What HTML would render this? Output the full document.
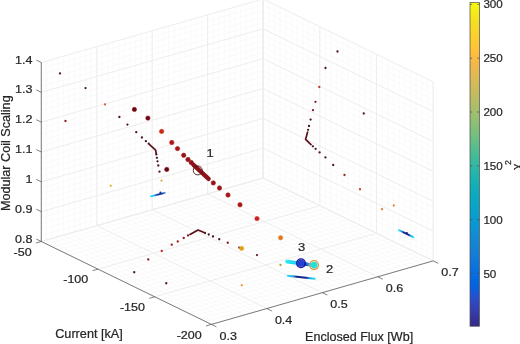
<!DOCTYPE html>
<html><head><meta charset="utf-8"><title>plot</title>
<style>
html,body{margin:0;padding:0;background:#fff;}
body{width:520px;height:344px;overflow:hidden;}
svg{display:block;}
.gm{stroke:#f7f7f7;stroke-width:0.6;}
.gM{stroke:#ebebeb;stroke-width:0.8;}
.ax{stroke:#4a4a4a;stroke-width:0.7;}
.t text, text{font-family:"Liberation Sans",sans-serif;fill:#262626;stroke:#262626;stroke-width:0.22;}
</style></head><body>
<svg width="520" height="344" viewBox="0 0 520 344">
<defs><linearGradient id="pg" x1="0" y1="0" x2="0" y2="1"><stop offset="0.0000" stop-color="#f9fb0e"/><stop offset="0.0159" stop-color="#f6f313"/><stop offset="0.0317" stop-color="#f5eb18"/><stop offset="0.0476" stop-color="#f5e41d"/><stop offset="0.0635" stop-color="#f5de21"/><stop offset="0.0794" stop-color="#f7d826"/><stop offset="0.0952" stop-color="#fad32a"/><stop offset="0.1111" stop-color="#fcce2e"/><stop offset="0.1270" stop-color="#fec832"/><stop offset="0.1429" stop-color="#ffc337"/><stop offset="0.1587" stop-color="#fdbe3d"/><stop offset="0.1746" stop-color="#f8bb44"/><stop offset="0.1905" stop-color="#f1b94a"/><stop offset="0.2063" stop-color="#e9b94e"/><stop offset="0.2222" stop-color="#e1b952"/><stop offset="0.2381" stop-color="#d9ba56"/><stop offset="0.2540" stop-color="#d1bb59"/><stop offset="0.2698" stop-color="#c8bc5d"/><stop offset="0.2857" stop-color="#c0bc60"/><stop offset="0.3016" stop-color="#b7bd64"/><stop offset="0.3175" stop-color="#aebe67"/><stop offset="0.3333" stop-color="#a5be6b"/><stop offset="0.3492" stop-color="#9cbf6f"/><stop offset="0.3651" stop-color="#92bf73"/><stop offset="0.3810" stop-color="#87bf77"/><stop offset="0.3968" stop-color="#7cbf7b"/><stop offset="0.4127" stop-color="#71bf80"/><stop offset="0.4286" stop-color="#65be86"/><stop offset="0.4444" stop-color="#59bd8c"/><stop offset="0.4603" stop-color="#4dbc92"/><stop offset="0.4762" stop-color="#42bb98"/><stop offset="0.4921" stop-color="#38b99e"/><stop offset="0.5079" stop-color="#2eb7a4"/><stop offset="0.5238" stop-color="#25b5a9"/><stop offset="0.5397" stop-color="#1db3af"/><stop offset="0.5556" stop-color="#15b1b4"/><stop offset="0.5714" stop-color="#0faeb9"/><stop offset="0.5873" stop-color="#0aacbe"/><stop offset="0.6032" stop-color="#07a9c2"/><stop offset="0.6190" stop-color="#06a7c6"/><stop offset="0.6349" stop-color="#06a4ca"/><stop offset="0.6508" stop-color="#06a0cd"/><stop offset="0.6667" stop-color="#079ccf"/><stop offset="0.6825" stop-color="#0998d1"/><stop offset="0.6984" stop-color="#0c93d2"/><stop offset="0.7143" stop-color="#108ed2"/><stop offset="0.7302" stop-color="#1389d3"/><stop offset="0.7460" stop-color="#1485d4"/><stop offset="0.7619" stop-color="#1481d6"/><stop offset="0.7778" stop-color="#127dd8"/><stop offset="0.7937" stop-color="#1079da"/><stop offset="0.8095" stop-color="#0d75dc"/><stop offset="0.8254" stop-color="#0871de"/><stop offset="0.8413" stop-color="#046de0"/><stop offset="0.8571" stop-color="#0268e1"/><stop offset="0.8730" stop-color="#0363e1"/><stop offset="0.8889" stop-color="#0f5cdd"/><stop offset="0.9048" stop-color="#2053d4"/><stop offset="0.9206" stop-color="#2c4ac7"/><stop offset="0.9365" stop-color="#3243ba"/><stop offset="0.9524" stop-color="#353dad"/><stop offset="0.9683" stop-color="#3637a0"/><stop offset="0.9841" stop-color="#363093"/><stop offset="1.0000" stop-color="#352a87"/></linearGradient></defs>
<rect width="520" height="344" fill="#fff"/>
<g fill="none">
<path class="gm" d="M41.30,241.50 L41.30,62.50 M41.30,241.50 L211.40,324.40 M46.84,239.91 L46.84,60.91 M46.84,239.91 L216.95,322.81 M52.39,238.32 L52.39,59.32 M52.39,238.32 L222.49,321.22 M57.93,236.74 L57.93,57.74 M57.93,236.74 L228.04,319.64 M63.48,235.15 L63.48,56.15 M63.48,235.15 L233.58,318.05 M69.02,233.56 L69.02,54.56 M69.02,233.56 L239.13,316.46 M74.57,231.97 L74.57,52.97 M74.57,231.97 L244.67,314.88 M80.11,230.39 L80.11,51.39 M80.11,230.39 L250.22,313.29 M85.66,228.80 L85.66,49.80 M85.66,228.80 L255.76,311.70 M91.20,227.21 L91.20,48.21 M91.20,227.21 L261.31,310.11 M96.75,225.62 L96.75,46.62 M96.75,225.62 L266.85,308.52 M102.29,224.04 L102.29,45.04 M102.29,224.04 L272.40,306.94 M107.84,222.45 L107.84,43.45 M107.84,222.45 L277.94,305.35 M113.38,220.86 L113.38,41.86 M113.38,220.86 L283.49,303.76 M118.93,219.28 L118.93,40.28 M118.93,219.28 L289.03,302.17 M124.47,217.69 L124.47,38.69 M124.47,217.69 L294.58,300.59 M130.02,216.10 L130.02,37.10 M130.02,216.10 L300.12,299.00 M135.56,214.51 L135.56,35.51 M135.56,214.51 L305.67,297.41 M141.11,212.93 L141.11,33.93 M141.11,212.93 L311.21,295.82 M146.65,211.34 L146.65,32.34 M146.65,211.34 L316.75,294.24 M152.20,209.75 L152.20,30.75 M152.20,209.75 L322.30,292.65 M157.75,208.16 L157.75,29.16 M157.75,208.16 L327.85,291.06 M163.29,206.57 L163.29,27.57 M163.29,206.57 L333.39,289.47 M168.83,204.99 L168.83,25.99 M168.83,204.99 L338.94,287.89 M174.38,203.40 L174.38,24.40 M174.38,203.40 L344.48,286.30 M179.93,201.81 L179.93,22.81 M179.93,201.81 L350.03,284.71 M185.47,200.22 L185.47,21.22 M185.47,200.22 L355.57,283.12 M191.01,198.64 L191.01,19.64 M191.01,198.64 L361.12,281.54 M196.56,197.05 L196.56,18.05 M196.56,197.05 L366.66,279.95 M202.10,195.46 L202.10,16.46 M202.10,195.46 L372.21,278.36 M207.65,193.88 L207.65,14.88 M207.65,193.88 L377.75,276.77 M213.19,192.29 L213.19,13.29 M213.19,192.29 L383.30,275.19 M218.74,190.70 L218.74,11.70 M218.74,190.70 L388.84,273.60 M224.28,189.11 L224.28,10.11 M224.28,189.11 L394.38,272.01 M229.83,187.53 L229.83,8.53 M229.83,187.53 L399.93,270.42 M235.38,185.94 L235.38,6.94 M235.38,185.94 L405.48,268.84 M240.92,184.35 L240.92,5.35 M240.92,184.35 L411.02,267.25 M246.46,182.76 L246.46,3.76 M246.46,182.76 L416.57,265.66 M252.01,181.18 L252.01,2.18 M252.01,181.18 L422.11,264.07 M257.55,179.59 L257.55,0.59 M257.55,179.59 L427.65,262.49 M263.10,178.00 L263.10,-1.00 M263.10,178.00 L433.20,260.90 M41.30,241.50 L263.10,178.00 M263.10,178.00 L433.20,260.90 M41.30,235.53 L263.10,172.03 M263.10,172.03 L433.20,254.93 M41.30,229.57 L263.10,166.07 M263.10,166.07 L433.20,248.97 M41.30,223.60 L263.10,160.10 M263.10,160.10 L433.20,243.00 M41.30,217.63 L263.10,154.13 M263.10,154.13 L433.20,237.03 M41.30,211.67 L263.10,148.17 M263.10,148.17 L433.20,231.07 M41.30,205.70 L263.10,142.20 M263.10,142.20 L433.20,225.10 M41.30,199.73 L263.10,136.23 M263.10,136.23 L433.20,219.13 M41.30,193.77 L263.10,130.27 M263.10,130.27 L433.20,213.17 M41.30,187.80 L263.10,124.30 M263.10,124.30 L433.20,207.20 M41.30,181.83 L263.10,118.33 M263.10,118.33 L433.20,201.23 M41.30,175.87 L263.10,112.37 M263.10,112.37 L433.20,195.27 M41.30,169.90 L263.10,106.40 M263.10,106.40 L433.20,189.30 M41.30,163.93 L263.10,100.43 M263.10,100.43 L433.20,183.33 M41.30,157.97 L263.10,94.47 M263.10,94.47 L433.20,177.37 M41.30,152.00 L263.10,88.50 M263.10,88.50 L433.20,171.40 M41.30,146.03 L263.10,82.53 M263.10,82.53 L433.20,165.43 M41.30,140.07 L263.10,76.57 M263.10,76.57 L433.20,159.47 M41.30,134.10 L263.10,70.60 M263.10,70.60 L433.20,153.50 M41.30,128.13 L263.10,64.63 M263.10,64.63 L433.20,147.53 M41.30,122.17 L263.10,58.67 M263.10,58.67 L433.20,141.57 M41.30,116.20 L263.10,52.70 M263.10,52.70 L433.20,135.60 M41.30,110.23 L263.10,46.73 M263.10,46.73 L433.20,129.63 M41.30,104.27 L263.10,40.77 M263.10,40.77 L433.20,123.67 M41.30,98.30 L263.10,34.80 M263.10,34.80 L433.20,117.70 M41.30,92.33 L263.10,28.83 M263.10,28.83 L433.20,111.73 M41.30,86.37 L263.10,22.87 M263.10,22.87 L433.20,105.77 M41.30,80.40 L263.10,16.90 M263.10,16.90 L433.20,99.80 M41.30,74.43 L263.10,10.93 M263.10,10.93 L433.20,93.83 M41.30,68.47 L263.10,4.97 M263.10,4.97 L433.20,87.87 M41.30,62.50 L263.10,-1.00 M263.10,-1.00 L433.20,81.90 M263.10,178.00 L263.10,-1.00 M41.30,241.50 L263.10,178.00 M268.77,180.76 L268.77,1.76 M46.97,244.26 L268.77,180.76 M274.44,183.53 L274.44,4.53 M52.64,247.03 L274.44,183.53 M280.11,186.29 L280.11,7.29 M58.31,249.79 L280.11,186.29 M285.78,189.05 L285.78,10.05 M63.98,252.55 L285.78,189.05 M291.45,191.82 L291.45,12.82 M69.65,255.32 L291.45,191.82 M297.12,194.58 L297.12,15.58 M75.32,258.08 L297.12,194.58 M302.79,197.34 L302.79,18.34 M80.99,260.84 L302.79,197.34 M308.46,200.11 L308.46,21.11 M86.66,263.61 L308.46,200.11 M314.13,202.87 L314.13,23.87 M92.33,266.37 L314.13,202.87 M319.80,205.63 L319.80,26.63 M98.00,269.13 L319.80,205.63 M325.47,208.40 L325.47,29.40 M103.67,271.90 L325.47,208.40 M331.14,211.16 L331.14,32.16 M109.34,274.66 L331.14,211.16 M336.81,213.92 L336.81,34.92 M115.01,277.42 L336.81,213.92 M342.48,216.69 L342.48,37.69 M120.68,280.19 L342.48,216.69 M348.15,219.45 L348.15,40.45 M126.35,282.95 L348.15,219.45 M353.82,222.21 L353.82,43.21 M132.02,285.71 L353.82,222.21 M359.49,224.98 L359.49,45.98 M137.69,288.48 L359.49,224.98 M365.16,227.74 L365.16,48.74 M143.36,291.24 L365.16,227.74 M370.83,230.50 L370.83,51.50 M149.03,294.00 L370.83,230.50 M376.50,233.27 L376.50,54.27 M154.70,296.77 L376.50,233.27 M382.17,236.03 L382.17,57.03 M160.37,299.53 L382.17,236.03 M387.84,238.79 L387.84,59.79 M166.04,302.29 L387.84,238.79 M393.51,241.56 L393.51,62.56 M171.71,305.06 L393.51,241.56 M399.18,244.32 L399.18,65.32 M177.38,307.82 L399.18,244.32 M404.85,247.08 L404.85,68.08 M183.05,310.58 L404.85,247.08 M410.52,249.85 L410.52,70.85 M188.72,313.35 L410.52,249.85 M416.19,252.61 L416.19,73.61 M194.39,316.11 L416.19,252.61 M421.86,255.37 L421.86,76.37 M200.06,318.87 L421.86,255.37 M427.53,258.14 L427.53,79.14 M205.73,321.64 L427.53,258.14 M433.20,260.90 L433.20,81.90 M211.40,324.40 L433.20,260.90"/>
<path class="gM" d="M263.10,178.00 L263.10,-1.00 M41.30,241.50 L263.10,178.00 M319.80,205.63 L319.80,26.63 M98.00,269.13 L319.80,205.63 M376.50,233.27 L376.50,54.27 M154.70,296.77 L376.50,233.27 M433.20,260.90 L433.20,81.90 M211.40,324.40 L433.20,260.90 M41.30,241.50 L41.30,62.50 M41.30,241.50 L211.40,324.40 M96.75,225.62 L96.75,46.62 M96.75,225.62 L266.85,308.52 M152.20,209.75 L152.20,30.75 M152.20,209.75 L322.30,292.65 M207.65,193.88 L207.65,14.88 M207.65,193.88 L377.75,276.77 M263.10,178.00 L263.10,-1.00 M263.10,178.00 L433.20,260.90 M41.30,241.50 L263.10,178.00 M263.10,178.00 L433.20,260.90 M41.30,211.67 L263.10,148.17 M263.10,148.17 L433.20,231.07 M41.30,181.83 L263.10,118.33 M263.10,118.33 L433.20,201.23 M41.30,152.00 L263.10,88.50 M263.10,88.50 L433.20,171.40 M41.30,122.17 L263.10,58.67 M263.10,58.67 L433.20,141.57 M41.30,92.33 L263.10,28.83 M263.10,28.83 L433.20,111.73 M41.30,62.50 L263.10,-1.00 M263.10,-1.00 L433.20,81.90"/>
<path class="ax" d="M41.30,62.50 L41.30,241.50 L211.40,324.40 L433.20,260.90 M41.30,241.50 L35.92,243.04 M98.00,269.13 L92.62,270.67 M154.70,296.77 L149.32,298.31 M211.40,324.40 L206.02,325.94 M211.40,324.40 L216.43,326.85 M266.85,308.52 L271.88,310.98 M322.30,292.65 L327.33,295.10 M377.75,276.77 L382.78,279.23 M433.20,260.90 L438.23,263.35 M41.30,241.50 L36.27,239.05 M41.30,211.67 L36.27,209.21 M41.30,181.83 L36.27,179.38 M41.30,152.00 L36.27,149.55 M41.30,122.17 L36.27,119.71 M41.30,92.33 L36.27,89.88 M41.30,62.50 L36.27,60.05"/>
</g>
<circle cx="60.00" cy="73.40" r="1.15" fill="#4c1420"/>
<circle cx="85.50" cy="88.10" r="1.15" fill="#4c1420"/>
<circle cx="105.00" cy="104.40" r="1.15" fill="#d86030"/>
<circle cx="65.50" cy="121.00" r="1.15" fill="#8a1820"/>
<circle cx="119.40" cy="117.00" r="1.15" fill="#4c1420"/>
<circle cx="127.40" cy="124.60" r="1.15" fill="#4c1420"/>
<circle cx="136.25" cy="132.20" r="1.15" fill="#4c1420"/>
<circle cx="141.90" cy="137.50" r="1.15" fill="#4c1420"/>
<circle cx="145.90" cy="141.20" r="1.15" fill="#4c1420"/>
<circle cx="148.70" cy="143.70" r="1.15" fill="#4c1420"/>
<circle cx="156.30" cy="154.40" r="1.15" fill="#4c1420"/>
<circle cx="156.90" cy="157.80" r="1.15" fill="#4c1420"/>
<circle cx="157.50" cy="161.30" r="1.15" fill="#4c1420"/>
<circle cx="158.30" cy="165.50" r="1.15" fill="#4c1420"/>
<circle cx="159.50" cy="171.70" r="1.15" fill="#4c1420"/>
<circle cx="110.75" cy="185.75" r="1.15" fill="#e4b840"/>
<circle cx="161.50" cy="180.60" r="1.15" fill="#e4a840"/>
<path d="M149.6,144.6 L155.6,150.1 L156.2,153.5" fill="none" stroke="#5a1018" stroke-width="1.7" stroke-linejoin="round" stroke-linecap="round"/>
<circle cx="337.50" cy="51.50" r="1.15" fill="#4c1420"/>
<circle cx="325.50" cy="68.00" r="1.15" fill="#4c1420"/>
<circle cx="319.30" cy="87.00" r="1.15" fill="#c03828"/>
<circle cx="315.50" cy="101.80" r="1.15" fill="#8a1820"/>
<circle cx="313.00" cy="110.20" r="1.15" fill="#8a1820"/>
<circle cx="363.75" cy="113.50" r="1.15" fill="#5a1420"/>
<circle cx="310.60" cy="119.60" r="1.15" fill="#4c1420"/>
<circle cx="309.00" cy="126.00" r="1.15" fill="#4c1420"/>
<circle cx="308.10" cy="129.80" r="1.15" fill="#4c1420"/>
<circle cx="312.90" cy="146.30" r="1.15" fill="#4c1420"/>
<circle cx="315.60" cy="148.80" r="1.15" fill="#4c1420"/>
<circle cx="319.60" cy="152.40" r="1.15" fill="#4c1420"/>
<circle cx="325.40" cy="157.40" r="1.15" fill="#4c1420"/>
<circle cx="333.20" cy="165.00" r="1.15" fill="#4c1420"/>
<circle cx="344.50" cy="175.00" r="1.15" fill="#90301c"/>
<circle cx="360.00" cy="189.25" r="1.15" fill="#c04824"/>
<circle cx="382.00" cy="209.25" r="1.15" fill="#e08838"/>
<circle cx="393.75" cy="205.50" r="1.15" fill="#e08838"/>
<path d="M307.6,132 L305.6,139.4 L311,144.6" fill="none" stroke="#5a1018" stroke-width="1.7" stroke-linejoin="round" stroke-linecap="round"/>
<circle cx="134.25" cy="272.25" r="1.15" fill="#4c1420"/>
<circle cx="148.25" cy="259.50" r="1.15" fill="#8a1820"/>
<circle cx="161.75" cy="251.00" r="1.15" fill="#c02828"/>
<circle cx="171.75" cy="244.75" r="1.15" fill="#a01c20"/>
<circle cx="177.75" cy="241.50" r="1.15" fill="#a01c20"/>
<circle cx="183.75" cy="238.00" r="1.15" fill="#901820"/>
<circle cx="188.00" cy="235.50" r="1.15" fill="#901820"/>
<circle cx="205.00" cy="233.00" r="1.15" fill="#4c1420"/>
<circle cx="208.75" cy="234.50" r="1.15" fill="#4c1420"/>
<circle cx="213.00" cy="236.50" r="1.15" fill="#4c1420"/>
<circle cx="219.25" cy="239.25" r="1.15" fill="#4c1420"/>
<circle cx="227.75" cy="242.75" r="1.15" fill="#8a1820"/>
<circle cx="257.00" cy="255.10" r="1.15" fill="#6a1820"/>
<circle cx="239.30" cy="247.70" r="1.15" fill="#5a1820"/>
<circle cx="166.25" cy="283.25" r="1.15" fill="#4c1420"/>
<circle cx="241.75" cy="285.25" r="1.15" fill="#e8a040"/>
<circle cx="280.50" cy="265.00" r="1.15" fill="#b0a040"/>
<path d="M190,234.5 L198,230 L203.5,232.3" fill="none" stroke="#5a1018" stroke-width="1.7" stroke-linejoin="round" stroke-linecap="round"/>
<defs><linearGradient id="s1" x1="0" x2="1"><stop offset="0" stop-color="#28e4f4"/><stop offset="0.25" stop-color="#20b0f0"/><stop offset="0.42" stop-color="#1c50d0"/><stop offset="0.55" stop-color="#142890"/><stop offset="0.82" stop-color="#1838a8"/><stop offset="1" stop-color="#38a8f0"/></linearGradient><linearGradient id="s2" x1="0" x2="1"><stop offset="0" stop-color="#28e4f0"/><stop offset="0.2" stop-color="#20a0e8"/><stop offset="0.32" stop-color="#142890"/><stop offset="0.68" stop-color="#142890"/><stop offset="0.8" stop-color="#20a0e8"/><stop offset="1" stop-color="#28e4e8"/></linearGradient><linearGradient id="s3" x1="0" x2="1"><stop offset="0" stop-color="#28e8f0"/><stop offset="0.35" stop-color="#20d0f0"/><stop offset="0.5" stop-color="#2060e0"/><stop offset="0.62" stop-color="#1818a8"/><stop offset="0.75" stop-color="#2070e0"/><stop offset="0.85" stop-color="#20e0e0"/><stop offset="1" stop-color="#20e0d8"/></linearGradient></defs>
<path d="M150.8,196.3 L164.8,192.8" stroke="url(#s1)" stroke-width="1.9" stroke-linecap="round" fill="none" gradientUnits="userSpaceOnUse"/>
<circle cx="160.40" cy="192.60" r="1.00" fill="#142890"/>
<path d="M398.9,230.1 L413.4,237.2" stroke="url(#s2)" stroke-width="1.9" stroke-linecap="round" fill="none"/>
<circle cx="406.90" cy="232.90" r="1.00" fill="#142070"/>
<path d="M287.7,275.7 L314.8,278.8" stroke="url(#s2)" stroke-width="1.9" stroke-linecap="round" fill="none"/>
<circle cx="134.40" cy="109.40" r="2.20" fill="#5a0a14" stroke="#a82028" stroke-width="0.6"/>
<circle cx="147.90" cy="118.10" r="2.20" fill="#5a0a14" stroke="#a82028" stroke-width="0.6"/>
<circle cx="161.60" cy="131.40" r="2.20" fill="#c62a1a" stroke="#cc3622" stroke-width="0.6"/>
<circle cx="171.80" cy="142.50" r="2.20" fill="#a81818" stroke="#c02020" stroke-width="0.6"/>
<circle cx="177.50" cy="148.60" r="2.20" fill="#a01818" stroke="#b82020" stroke-width="0.6"/>
<circle cx="183.70" cy="155.30" r="2.20" fill="#901418" stroke="#a81c20" stroke-width="0.6"/>
<circle cx="188.00" cy="159.50" r="2.20" fill="#901418" stroke="#a81c20" stroke-width="0.6"/>
<circle cx="191.20" cy="162.50" r="2.20" fill="#8c1418" stroke="#a01c20" stroke-width="0.6"/>
<circle cx="166.75" cy="169.40" r="2.20" fill="#5a0a14" stroke="#a82028" stroke-width="0.6"/>
<circle cx="213.30" cy="182.90" r="2.20" fill="#901418" stroke="#a81c20" stroke-width="0.6"/>
<circle cx="219.50" cy="188.00" r="2.20" fill="#981418" stroke="#b01c20" stroke-width="0.6"/>
<circle cx="228.00" cy="195.00" r="2.20" fill="#a01818" stroke="#b82020" stroke-width="0.6"/>
<circle cx="240.00" cy="204.80" r="2.20" fill="#a81818" stroke="#c02020" stroke-width="0.6"/>
<circle cx="257.00" cy="218.60" r="2.20" fill="#c82020" stroke="#d83028" stroke-width="0.6"/>
<circle cx="241.60" cy="248.40" r="2.20" fill="#e0a018" stroke="#e8b030" stroke-width="0.6"/>
<circle cx="280.60" cy="237.80" r="2.20" fill="#e07820" stroke="#e88830" stroke-width="0.6"/>
<path d="M193.2,164.6 L208.6,178.8" stroke="#8c1418" stroke-width="4.4" stroke-linecap="round" fill="none"/>
<circle cx="197.75" cy="170.4" r="4.5" fill="none" stroke="#4a1414" stroke-width="0.9"/>
<path d="M287,261.6 L314,265.2" stroke="url(#s3)" stroke-width="3.6" stroke-linecap="round" fill="none"/>
<circle cx="301" cy="263.2" r="3.6" fill="#2440d0"/>
<circle cx="301" cy="263.2" r="4.3" fill="none" stroke="#14149c" stroke-width="1.4"/>
<circle cx="314.1" cy="265.1" r="3.4" fill="#20e0d8"/>
<circle cx="314.1" cy="265.1" r="4.4" fill="none" stroke="#e09440" stroke-width="1.3"/>
<text transform="translate(210,157) scale(1.1,1)" text-anchor="middle" font-size="11.8" fill="#111">1</text>
<text transform="translate(301.6,250.7) scale(1.1,1)" text-anchor="middle" font-size="11.8" fill="#111">3</text>
<text transform="translate(329.7,273.2) scale(1.1,1)" text-anchor="middle" font-size="11.8" fill="#111">2</text>
<rect x="470.00" y="2.60" width="9.40" height="323.60" fill="url(#pg)"/>
<rect x="470.00" y="2.60" width="9.40" height="323.60" fill="none" class="ax"/>
<path class="ax" fill="none" d="M479.40,273.50 h-2.2 M470.00,273.50 h2.2 M479.40,219.68 h-2.2 M470.00,219.68 h2.2 M479.40,165.85 h-2.2 M470.00,165.85 h2.2 M479.40,112.03 h-2.2 M470.00,112.03 h2.2 M479.40,58.20 h-2.2 M470.00,58.20 h2.2 M479.40,4.38 h-2.2 M470.00,4.38 h2.2"/>
<g class="t"><text transform="translate(32.37,242.55) scale(1.1,1)" text-anchor="end" font-size="11.4" >0.8</text>
<text transform="translate(32.37,212.71) scale(1.1,1)" text-anchor="end" font-size="11.4" >0.9</text>
<text transform="translate(32.37,182.88) scale(1.1,1)" text-anchor="end" font-size="11.4" >1</text>
<text transform="translate(32.37,153.05) scale(1.1,1)" text-anchor="end" font-size="11.4" >1.1</text>
<text transform="translate(32.37,123.21) scale(1.1,1)" text-anchor="end" font-size="11.4" >1.2</text>
<text transform="translate(32.37,93.38) scale(1.1,1)" text-anchor="end" font-size="11.4" >1.3</text>
<text transform="translate(32.37,63.55) scale(1.1,1)" text-anchor="end" font-size="11.4" >1.4</text>
<text transform="translate(31.62,255.74) scale(1.1,1)" text-anchor="end" font-size="11.4" >-50</text>
<text transform="translate(88.32,283.37) scale(1.1,1)" text-anchor="end" font-size="11.4" >-100</text>
<text transform="translate(145.02,311.01) scale(1.1,1)" text-anchor="end" font-size="11.4" >-150</text>
<text transform="translate(201.72,338.64) scale(1.1,1)" text-anchor="end" font-size="11.4" >-200</text>
<text transform="translate(219.43,339.85) scale(1.1,1)" text-anchor="start" font-size="11.4" >0.3</text>
<text transform="translate(274.88,323.98) scale(1.1,1)" text-anchor="start" font-size="11.4" >0.4</text>
<text transform="translate(330.33,308.10) scale(1.1,1)" text-anchor="start" font-size="11.4" >0.5</text>
<text transform="translate(385.78,292.23) scale(1.1,1)" text-anchor="start" font-size="11.4" >0.6</text>
<text transform="translate(441.23,276.35) scale(1.1,1)" text-anchor="start" font-size="11.4" >0.7</text>
<text transform="translate(89.00,337.50) scale(1.04,1)" text-anchor="middle" font-size="12.2" >Current [kA]</text>
<text transform="translate(359.10,341.30) scale(1.03,1)" text-anchor="middle" font-size="12.2" >Enclosed Flux [Wb]</text>
<text transform="translate(10.1,153.2) rotate(-90) scale(1.035,1)" text-anchor="middle" font-size="12.2">Modular Coil Scaling</text>
<text transform="translate(483.40,277.50) scale(1.02,1)" text-anchor="start" font-size="11.4" >50</text>
<text transform="translate(483.40,223.68) scale(1.02,1)" text-anchor="start" font-size="11.4" >100</text>
<text transform="translate(483.40,169.85) scale(1.02,1)" text-anchor="start" font-size="11.4" >150</text>
<text transform="translate(483.40,116.03) scale(1.02,1)" text-anchor="start" font-size="11.4" >200</text>
<text transform="translate(483.40,62.20) scale(1.02,1)" text-anchor="start" font-size="11.4" >250</text>
<text transform="translate(483.40,8.38) scale(1.02,1)" text-anchor="start" font-size="11.4" >300</text>
<text transform="translate(520.5,170) rotate(-90)" text-anchor="start" font-size="12.2">χ<tspan dx="-1.4" dy="-9.2" font-size="8.8">2</tspan></text></g>
</svg>
</body></html>
